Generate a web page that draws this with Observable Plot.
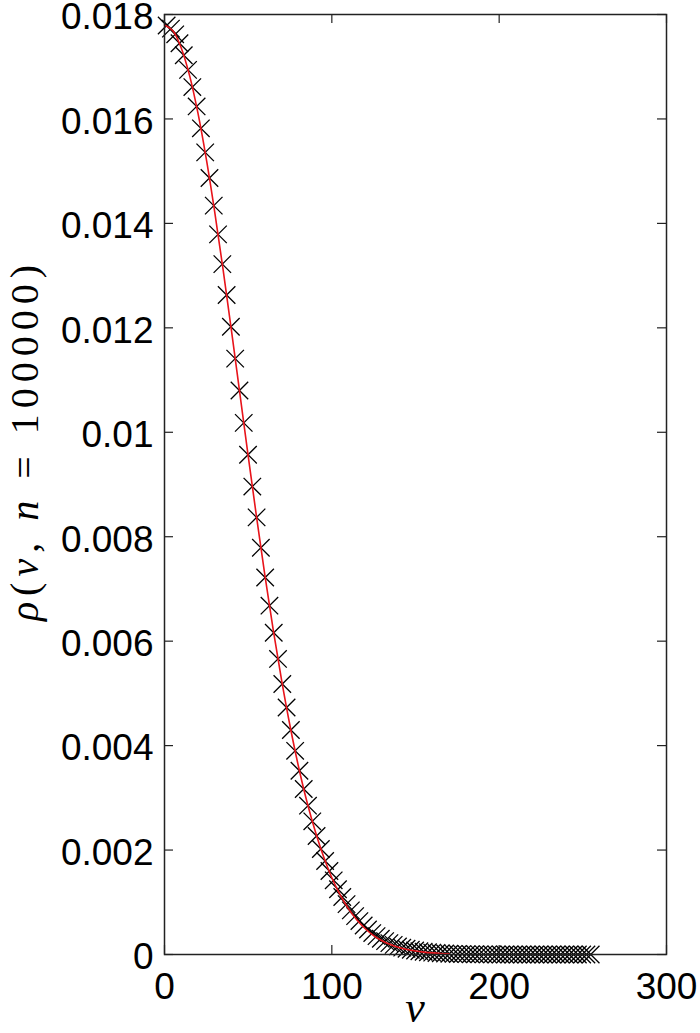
<!DOCTYPE html>
<html><head><meta charset="utf-8">
<script src="https://cdn.jsdelivr.net/npm/d3@7"></script>
<script src="https://cdn.jsdelivr.net/npm/@observablehq/plot@0.6"></script>
<style>body{margin:0;background:#fff}</style>
</head><body><div id="chart"></div>
<script>
// Histogram markers (bin centres v, density rho)
const markerV = [1.28, 3.84, 6.4, 8.96, 11.52, 14.08, 16.64, 19.2, 21.76, 24.32, 26.88, 29.44, 32, 34.56, 37.12, 39.68, 42.24, 44.8, 47.36, 49.92, 52.48, 55.04, 57.6, 60.16, 62.72, 65.28, 67.84, 70.4, 72.96, 75.52, 78.08, 80.64, 83.2, 85.76, 88.32, 90.88, 93.44, 96, 98.56, 101.12, 103.68, 106.24, 108.8, 111.36, 113.92, 116.48, 119.04, 121.6, 124.16, 126.72, 129.28, 131.84, 134.4, 136.96, 139.52, 142.08, 144.64, 147.2, 149.76, 152.32, 154.88, 157.44, 160, 162.56, 165.12, 167.68, 170.24, 172.8, 175.36, 177.92, 180.48, 183.04, 185.6, 188.16, 190.72, 193.28, 195.84, 198.4, 200.96, 203.52, 206.08, 208.64, 211.2, 213.76, 216.32, 218.88, 221.44, 224, 226.56, 229.12, 231.68, 234.24, 236.8, 239.36, 241.92, 244.48, 247.04, 249.6, 252.16, 254.72];
const markerRho = [0.01779, 0.01773, 0.01762, 0.01745, 0.01722, 0.01694, 0.01661, 0.01624, 0.01582, 0.01536, 0.01487, 0.01434, 0.01379, 0.01322, 0.01263, 0.01202, 0.01141, 0.01080, 0.01018, 0.00957, 0.00896, 0.00837, 0.00779, 0.00722, 0.00668, 0.00616, 0.00566, 0.00518, 0.00473, 0.00430, 0.00390, 0.00352, 0.00317, 0.00285, 0.00255, 0.00227, 0.00202, 0.00179, 0.00160, 0.00142, 0.00125, 0.00110, 0.000965, 0.000845, 0.000735, 0.000640, 0.000555, 0.000478, 0.000410, 0.000352, 0.000301, 0.000256, 0.000218, 0.000184, 0.000155, 0.000131, 0.000110, 0.0000920, 0.0000765, 0.0000635, 0.0000525, 0.0000432, 0.0000355, 0.0000290, 0.0000236, 0.0000192, 0.0000155, 0.0000125, 0.0000100, 0.0000080, 0.0000064, 0.0000051, 0.0000040, 0.0000032, 0.0000025, 0.0000020, 0.0000016, 0.0000012, 0.0000010, 0.0000008, 0.0000006, 0.0000005, 0.0000004, 0.0000003, 0.0000003, 0.0000002, 0.0000002, 0.0000001, 0.0000001, 0.0000001, 0.0000001, 0, 0, 0, 0, 0, 0, 0, 0, 0];
// Theoretical curve
const curveV = [0, 5, 10, 15, 20, 25, 30, 35, 40, 45, 50, 55, 60, 65, 70, 75, 80, 85, 90, 95, 100, 105, 110, 115, 120, 125, 130, 135, 140, 145, 150, 155, 160, 165, 170];
const curveRho = [0.01780, 0.01769, 0.01736, 0.01683, 0.01611, 0.01523, 0.01422, 0.01312, 0.01195, 0.01075, 0.00955, 0.00838, 0.00726, 0.00621, 0.00525, 0.00438, 0.00361, 0.00294, 0.00237, 0.00188, 0.00147, 0.00114, 0.000874, 0.000660, 0.000493, 0.000363, 0.000264, 0.000190, 0.000135, 0.0000945, 0.0000655, 0.0000448, 0.0000303, 0.0000201, 0.0000133];
const xTicks = [0, 100, 200, 300];
const yTicks = [0, 0.002, 0.004, 0.006, 0.008, 0.01, 0.012, 0.014, 0.016, 0.018];
const yTickLabels = ["0", "0.002", "0.004", "0.006", "0.008", "0.01", "0.012", "0.014", "0.016", "0.018"];

const W = 700, H = 1033, mL = 164, mR = 34, mT = 14, mB = 79;
const innerW = W - mL - mR, innerH = H - mT - mB;
const tickLen = 9;
const markers = markerV.map((v, i) => ({v, rho: markerRho[i]}));
const curve = curveV.map((v, i) => ({v, rho: curveRho[i]}));

const plot = Plot.plot({
  width: W, height: H,
  marginLeft: mL, marginRight: mR, marginTop: mT, marginBottom: mB,
  x: {domain: [0, 300]},
  y: {domain: [0, 0.018]},
  style: {fontFamily: "'Liberation Sans', Arial, Helvetica, sans-serif", background: "#fff", color: "#000"},
  marks: [
    Plot.dot(markers, {x: "v", y: "rho", symbol: "times", r: 8, stroke: "#000", strokeWidth: 1.3}),
    Plot.line(curve, {x: "v", y: "rho", stroke: "#e8141b", strokeWidth: 1.6, curve: "catmull-rom"}),
    Plot.tickY(yTicks, {y: d => d, insetRight: innerW - tickLen, stroke: "#222", strokeWidth: 1.2}),
    Plot.tickY(yTicks, {y: d => d, insetLeft: innerW - tickLen, stroke: "#222", strokeWidth: 1.2}),
    Plot.tickX(xTicks, {x: d => d, insetTop: innerH - tickLen, stroke: "#222", strokeWidth: 1.2}),
    Plot.tickX(xTicks, {x: d => d, insetBottom: innerH - tickLen, stroke: "#222", strokeWidth: 1.2}),
    Plot.frame({stroke: "#222", strokeWidth: 1.5}),
    Plot.axisX({ticks: xTicks, tickSize: 0, tickPadding: 18, fontSize: 37, label: null}),
    Plot.axisY({ticks: yTicks, tickFormat: d => yTickLabels[yTicks.indexOf(d)], tickSize: 0, tickPadding: 11, fontSize: 37, dy: 3, label: null})
  ]
});
document.getElementById("chart").appendChild(plot);

const svg = d3.select(plot);
const xs = plot.scale("x");
// x-axis title
svg.append("text")
  .attr("x", xs.apply(150)).attr("y", 1022)
  .attr("text-anchor", "middle")
  .attr("font-family", "'Liberation Serif', 'DejaVu Serif', serif")
  .attr("font-style", "italic").attr("font-size", 44).attr("fill", "#000")
  .text("v");
// y-axis title
const yt = svg.append("text")
  .attr("transform", "translate(38,440) rotate(-90)")
  .attr("text-anchor", "middle")
  .attr("font-family", "'Liberation Serif', 'DejaVu Serif', serif")
  .attr("font-size", 40).attr("letter-spacing", 6).attr("fill", "#000")
  .attr("xml:space", "preserve");
yt.append("tspan").attr("font-style", "italic").text("ρ");
yt.append("tspan").text("(");
yt.append("tspan").attr("font-style", "italic").text("v");
yt.append("tspan").text(", ");
yt.append("tspan").attr("font-style", "italic").text("n");
yt.append("tspan").text(" = 100000)");
</script>
</body></html>
